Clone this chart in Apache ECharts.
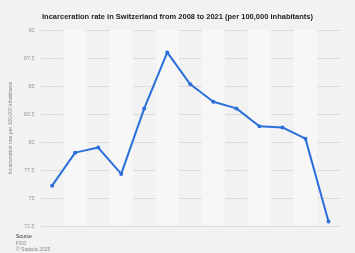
<!DOCTYPE html>
<html><head><meta charset="utf-8">
<script src="https://cdn.jsdelivr.net/npm/echarts@6/dist/echarts.min.js"></script>
<style>html,body{margin:0;padding:0;background:#f2f2f2}#c{width:355px;height:253px}</style>
</head><body><div id="c"></div>
<script>
const categories = ['2009','2010','2011','2012','2013','2014','2015','2016','2017','2018','2019','2020','2021'];
const rates = [76.1, 79.05, 79.5, 77.15, 83.0, 88.0, 85.15, 83.6, 83.0, 81.4, 81.3, 80.3, 72.9];
const yTicks = {min: 72.5, max: 90, interval: 2.5};

const chart = echarts.init(document.getElementById('c'), null, {renderer: 'canvas'});
chart.setOption({
  backgroundColor: '#f2f2f2',
  animation: false,
  textStyle: {fontFamily: 'Liberation Sans, Arial, sans-serif'},
  title: [{
    text: 'Incarceration rate in Switzerland from 2008 to 2021 (per 100,000 inhabitants)',
    left: 'center', top: 8,
    textStyle: {fontSize: 7.5, fontWeight: 'bold', color: '#222'}
  }, {
    text: 'Source\n{g|FSO}\n{g|© Statista 2025}',
    left: 11, top: 229,
    textStyle: {fontSize: 5, color: '#333', lineHeight: 6.2, fontWeight: 'normal',
      rich: {g: {fontSize: 5, color: '#888'}}}
  }],
  grid: {left: 40, right: 15, top: 30, bottom: 27},
  xAxis: {
    type: 'category', data: categories, boundaryGap: true,
    axisLine: {show: false}, axisTick: {show: false}, axisLabel: {show: false, interval: 0},
    splitArea: {show: true, interval: 0, areaStyle: {color: ['rgba(0,0,0,0)', '#f7f7f7']}}
  },
  yAxis: {
    type: 'value', min: yTicks.min, max: yTicks.max, interval: yTicks.interval,
    name: 'Incarceration rate per 100,000 inhabitants',
    nameLocation: 'middle', nameGap: 20,
    nameTextStyle: {fontSize: 5, color: '#888'},
    axisLine: {show: false}, axisTick: {show: false},
    axisLabel: {fontSize: 5.5, color: '#999', margin: 6},
    splitLine: {lineStyle: {color: '#dcdcdc', width: 1}}
  },
  series: [{
    type: 'line', data: rates,
    lineStyle: {color: '#2a6fdb', width: 2},
    itemStyle: {color: '#2a6fdb'},
    symbol: 'circle', symbolSize: 4
  }]
});
</script></body></html>
